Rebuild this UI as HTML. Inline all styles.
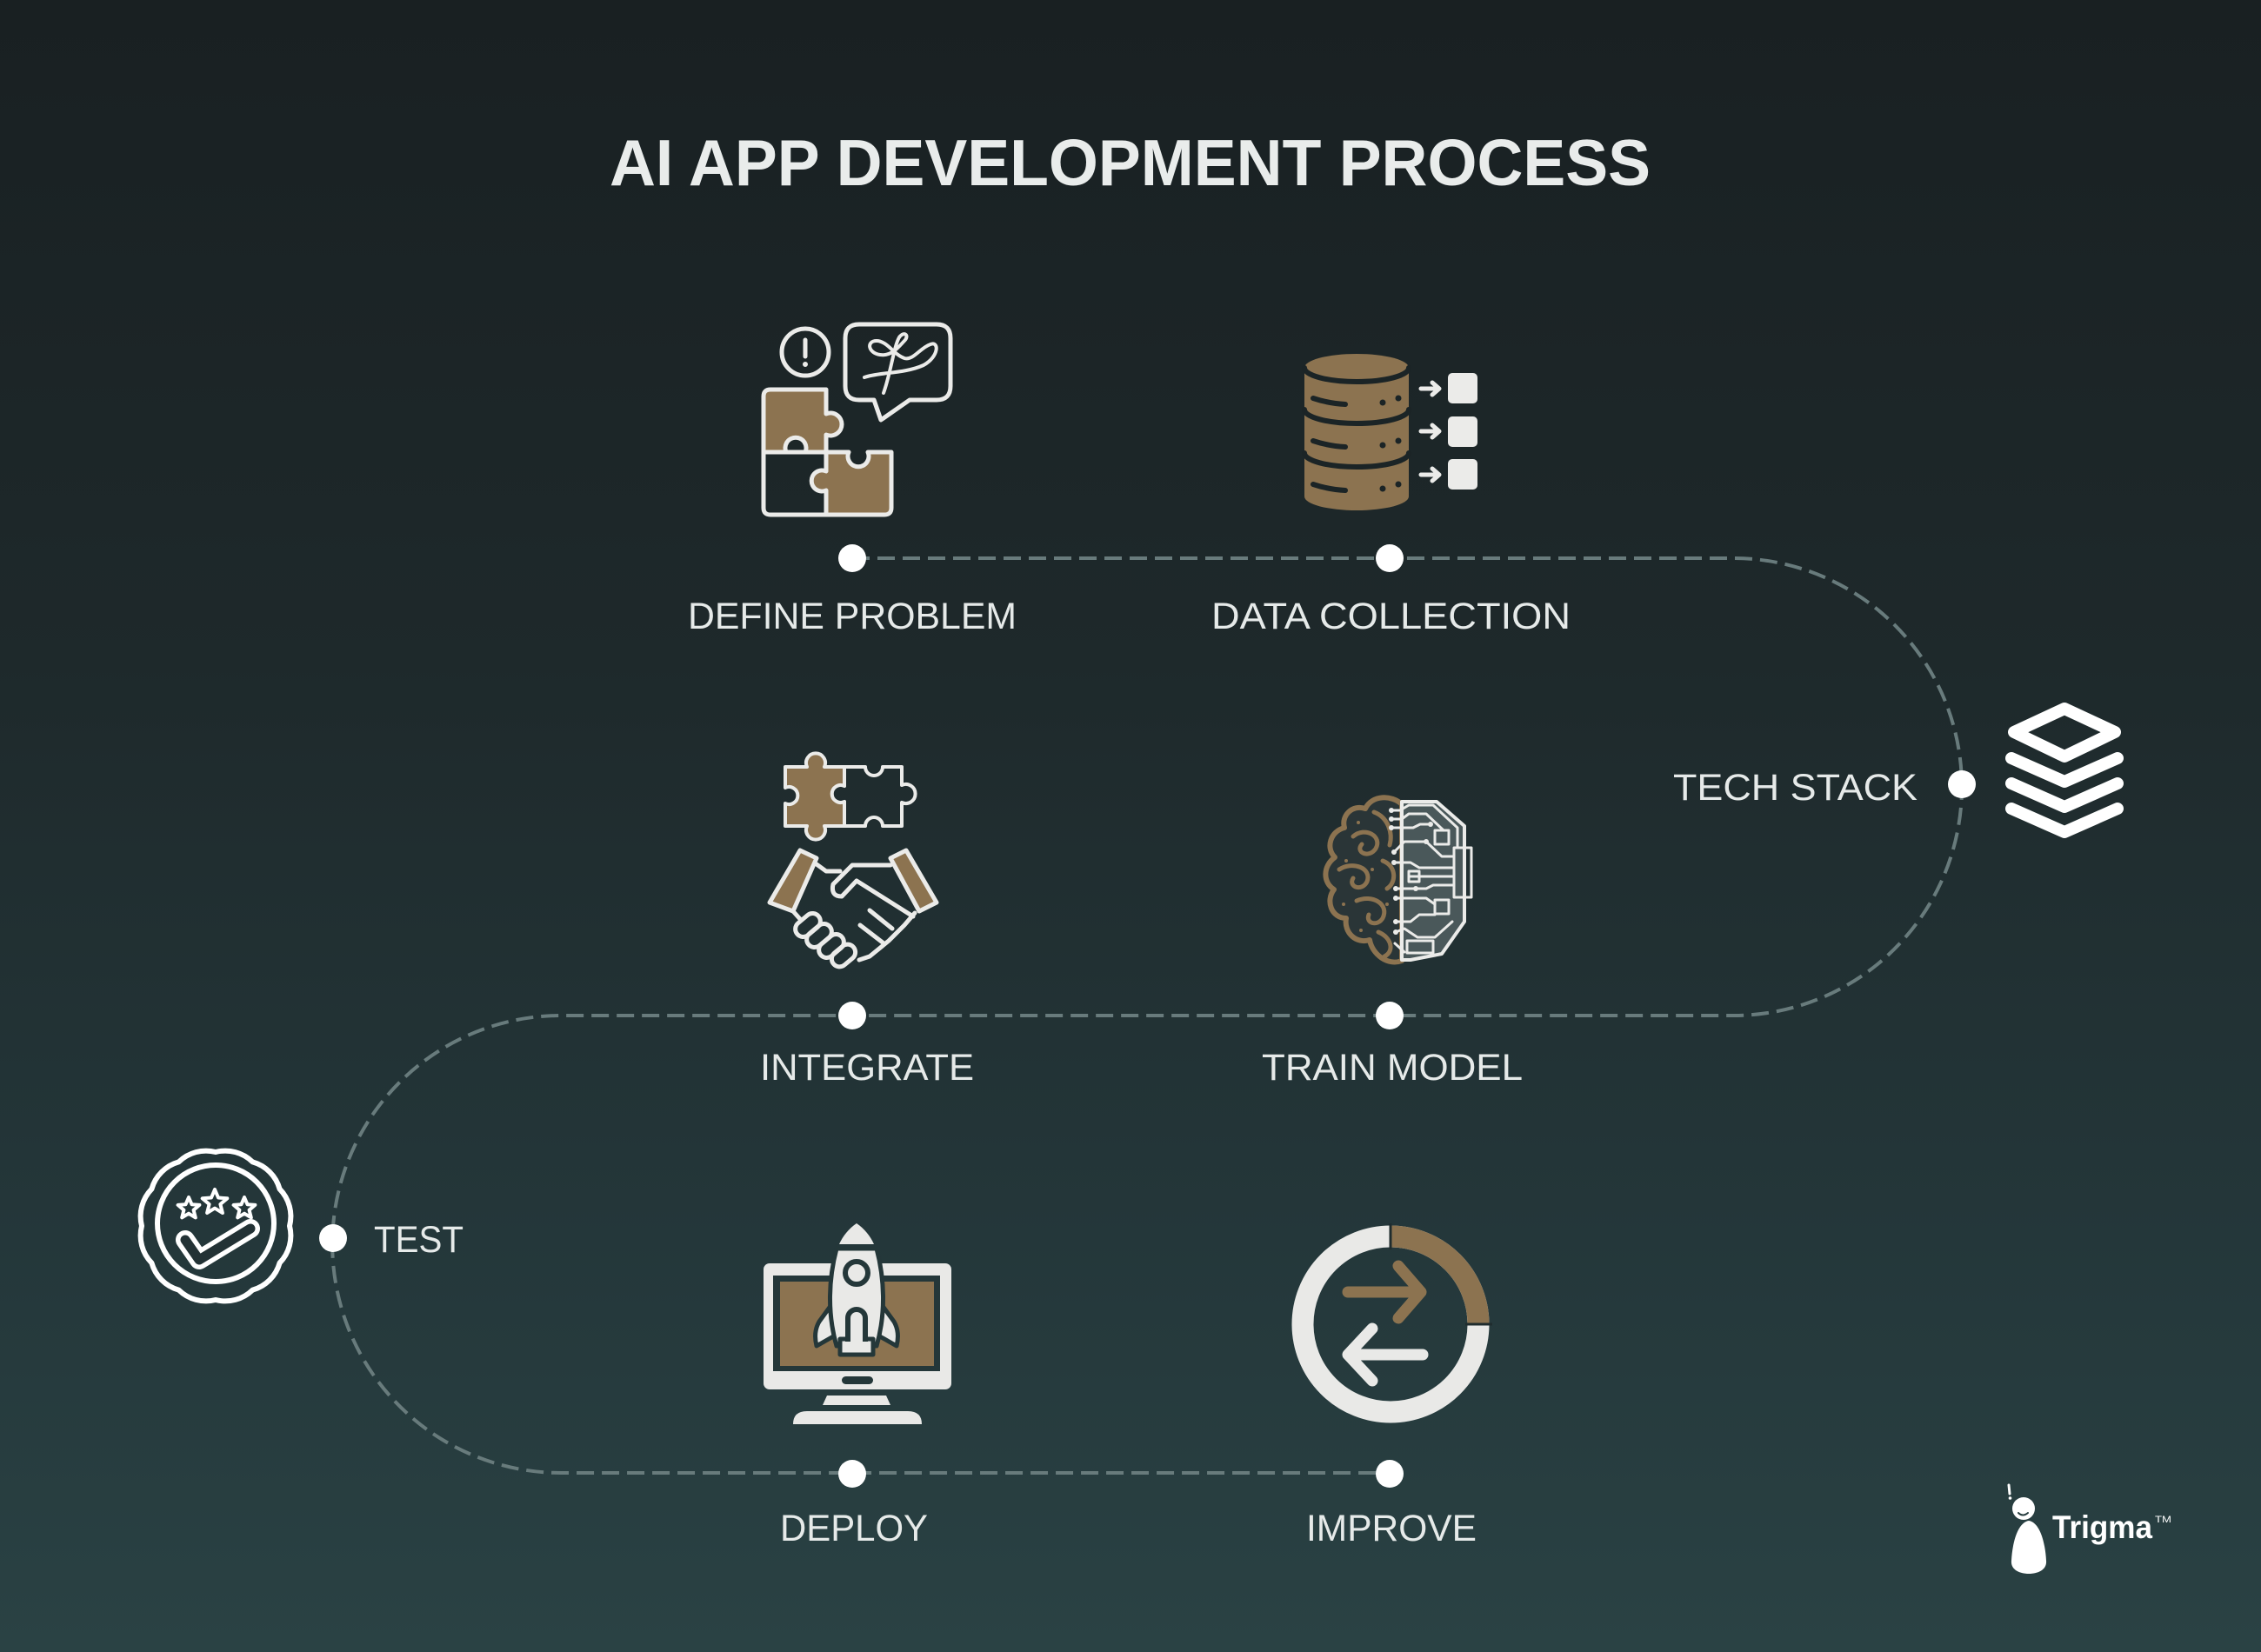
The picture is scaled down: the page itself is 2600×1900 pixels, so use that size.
<!DOCTYPE html>
<html>
<head>
<meta charset="utf-8">
<style>
  html,body{margin:0;padding:0;background:#1f2c2e;}
  svg{display:block;}
</style>
</head>
<body>
<svg width="2600" height="1900" viewBox="0 0 2600 1900" xmlns="http://www.w3.org/2000/svg">
  <defs>
    <linearGradient id="bg" x1="0" y1="0" x2="0" y2="1">
      <stop offset="0" stop-color="#192022"/>
      <stop offset="0.4" stop-color="#1e292b"/>
      <stop offset="0.75" stop-color="#24373a"/>
      <stop offset="1" stop-color="#2a4244"/>
    </linearGradient>
  </defs>
  <rect x="0" y="0" width="2600" height="1900" fill="url(#bg)"/>

  <!-- Title -->
  <text x="701" y="213" font-family="'Liberation Sans', sans-serif" font-weight="bold" font-size="75" fill="#e9eceb" textLength="1197" lengthAdjust="spacingAndGlyphs">AI APP DEVELOPMENT PROCESS</text>

  <!-- Dashed path -->
  <path d="M 980 642 H 1993 A 263 263 0 0 1 1993 1168 H 645 A 263 263 0 0 0 645 1694 H 1598" fill="none" stroke="#687b7c" stroke-width="4" stroke-dasharray="20 9"/>

  <!-- Dots -->
  <g fill="#ffffff">
    <circle cx="980" cy="642" r="16"/>
    <circle cx="1598" cy="642" r="16"/>
    <circle cx="2256" cy="902" r="16"/>
    <circle cx="980" cy="1168" r="16"/>
    <circle cx="1598" cy="1168" r="16"/>
    <circle cx="383" cy="1424" r="16"/>
    <circle cx="980" cy="1695" r="16"/>
    <circle cx="1598" cy="1695" r="16"/>
  </g>

  <!-- Labels -->
  <g font-family="'Liberation Sans', sans-serif" font-size="43" fill="#e6eae9">
    <text x="791" y="723" textLength="378" lengthAdjust="spacingAndGlyphs">DEFINE PROBLEM</text>
    <text x="1393" y="723" textLength="413" lengthAdjust="spacingAndGlyphs">DATA COLLECTION</text>
    <text x="1924" y="920" textLength="281" lengthAdjust="spacingAndGlyphs">TECH STACK</text>
    <text x="874" y="1242" textLength="246" lengthAdjust="spacingAndGlyphs">INTEGRATE</text>
    <text x="1451" y="1242" textLength="300" lengthAdjust="spacingAndGlyphs">TRAIN MODEL</text>
    <text x="430" y="1440" textLength="103" lengthAdjust="spacingAndGlyphs">TEST</text>
    <text x="897" y="1772" textLength="170" lengthAdjust="spacingAndGlyphs">DEPLOY</text>
    <text x="1502" y="1772" textLength="196" lengthAdjust="spacingAndGlyphs">IMPROVE</text>
  </g>

  <!-- ICON 1: Define problem -->
  <g stroke="#ebebe9" stroke-width="5" stroke-linejoin="round" stroke-linecap="round">
    <circle cx="926" cy="405" r="27" fill="none"/>
    <line x1="926" y1="391" x2="926" y2="410"/>
    <circle cx="926" cy="419" r="2" fill="#ebebe9" stroke-width="2"/>
    <path d="M 988 373 H 1077 Q 1093 373 1093 389 V 444 Q 1093 460 1077 460 H 1046 L 1013 483 L 1005 460 H 988 Q 972 460 972 444 V 389 Q 972 373 988 373 Z" fill="none"/>
    <path d="M 994 434 C 1010 428, 1040 430, 1062 420 C 1080 410, 1080 392, 1070 396 C 1058 400, 1050 415, 1040 412 C 1028 408, 1020 392, 1008 392 C 996 392, 998 406, 1012 408 C 1026 410, 1034 398, 1040 392 C 1046 386, 1040 380, 1034 388 C 1028 398, 1024 430, 1016 452" fill="none" stroke-width="4"/>
    <!-- puzzle -->
    <path d="M 878 520 H 950 V 592 H 886 Q 878 592 878 584 Z" fill="none"/>
    <path d="M 886 448 H 950 V 476 A 13 13 0 1 1 950 500 V 520 H 926 A 12 12 0 1 0 904 520 H 878 V 456 Q 878 448 886 448 Z" fill="#8c7350"/>
    <path d="M 950 520 H 976 A 12 12 0 1 0 998 520 H 1025 V 584 Q 1025 592 1017 592 H 950 V 564 A 12 12 0 1 1 950 542 Z" fill="#8c7350"/>
  </g>

  <!-- ICON 2: Data collection -->
  <g>
    <rect x="1500" y="423" width="120" height="148" fill="#8c7350"/>
    <ellipse cx="1560" cy="423" rx="60" ry="16" fill="#8c7350"/>
    <ellipse cx="1560" cy="571" rx="60" ry="16" fill="#8c7350"/>
    <g fill="none" stroke="#1b2426" stroke-width="6" stroke-linecap="round">
      <path d="M 1500 423 A 60 16 0 0 0 1620 423"/>
      <path d="M 1500 471 A 60 16 0 0 0 1620 471"/>
      <path d="M 1500 521 A 60 16 0 0 0 1620 521"/>
      <path d="M 1510 458 Q 1528 464 1547 465"/>
      <path d="M 1510 507 Q 1528 513 1547 514"/>
      <path d="M 1510 557 Q 1528 563 1547 564"/>
    </g>
    <g fill="#1b2426">
      <circle cx="1590" cy="463" r="3.5"/><circle cx="1608" cy="458" r="3.5"/>
      <circle cx="1590" cy="512" r="3.5"/><circle cx="1608" cy="507" r="3.5"/>
      <circle cx="1590" cy="562" r="3.5"/><circle cx="1608" cy="557" r="3.5"/>
    </g>
    <g stroke="#ebebe9" stroke-width="5" stroke-linecap="round" stroke-linejoin="round" fill="none">
      <path d="M 1634 447 H 1654 M 1647 440 L 1655 447 L 1647 454"/>
      <path d="M 1634 496 H 1654 M 1647 489 L 1655 496 L 1647 503"/>
      <path d="M 1634 546 H 1654 M 1647 539 L 1655 546 L 1647 553"/>
    </g>
    <g fill="#ebebe9">
      <rect x="1665" y="429" width="34" height="35" rx="5"/>
      <rect x="1665" y="479" width="34" height="35" rx="5"/>
      <rect x="1665" y="528" width="34" height="35" rx="5"/>
    </g>
  </g>

  <!-- ICON 3: Tech stack -->
  <g fill="none" stroke="#ffffff" stroke-width="14" stroke-linejoin="round" stroke-linecap="round">
    <polygon points="2374,815 2432,842 2374,870 2316,842"/>
    <polyline points="2313,872 2374,899 2435,872"/>
    <polyline points="2313,901 2374,928 2435,901"/>
    <polyline points="2313,930 2374,957 2435,930"/>
  </g>

  <!-- ICON 4: Integrate -->
  <g stroke="#ebebe9" stroke-width="4" stroke-linejoin="round" stroke-linecap="round">
    <path d="M 971 882 H 995 A 10 10 0 1 0 1015 882 H 1037 V 903 A 11 11 0 1 1 1037 923 V 950 H 1015 A 10 10 0 1 0 995 950 H 971 V 922 A 10 10 0 1 1 971 904 Z" fill="none"/>
    <path d="M 903 882 H 928 A 11 11 0 1 1 948 882 H 971 V 904 A 10 10 0 1 0 971 922 V 950 H 948 A 11 11 0 1 1 928 950 H 903 V 924 A 10 10 0 1 0 903 906 Z" fill="#8c7350"/>
    <!-- cuffs -->
    <polygon points="920,978 939,987 912,1048 885,1038" fill="#8c7350" stroke-width="5"/>
    <polygon points="1024,987 1042,978 1077,1038 1057,1048" fill="#8c7350" stroke-width="5"/>
    <!-- hands -->
    <g fill="none" stroke-width="5">
      <path d="M 939 994 L 950 1002 H 966"/>
      <path d="M 1024 995 H 980 L 958 1017 Q 955 1031 968 1031 L 985 1013 L 1050 1054"/>
      <path d="M 1052 1050 L 1040 1064 L 1022 1082 L 1000 1100 L 988 1104"/>
      <path d="M 1000 1047 L 1026 1068 M 989 1064 L 1015 1084"/>
      <path d="M 912 1048 L 920 1057"/>
      <rect x="913" y="1055" width="32" height="18" rx="9" transform="rotate(-40 929 1064)"/>
      <rect x="926" y="1067" width="32" height="18" rx="9" transform="rotate(-40 942 1076)"/>
      <rect x="940" y="1079" width="32" height="18" rx="9" transform="rotate(-40 956 1088)"/>
      <rect x="955" y="1090" width="30" height="18" rx="9" transform="rotate(-40 970 1099)"/>
    </g>
  </g>

  <!-- ICON 5: Train model (brain) -->
  <g>
    <path d="M 1612 925 C 1600 914, 1578 914, 1570 930 C 1555 925, 1542 938, 1546 952 C 1530 956, 1524 975, 1535 986 C 1521 996, 1521 1015, 1534 1023 C 1524 1036, 1531 1056, 1548 1056 C 1545 1073, 1560 1086, 1575 1081 C 1578 1098, 1596 1111, 1612 1105 Z" fill="#2a3537" stroke="#8c7350" stroke-width="6" stroke-linejoin="round"/>
    <g fill="none" stroke="#8c7350" stroke-width="5" stroke-linecap="round">
      <path d="M 1556 962 C 1570 950, 1590 962, 1582 976 C 1574 988, 1558 980, 1566 971"/>
      <path d="M 1580 934 C 1596 940, 1602 958, 1598 972"/>
      <path d="M 1540 1000 C 1555 990, 1578 998, 1572 1014 C 1566 1026, 1550 1020, 1556 1010"/>
      <path d="M 1590 990 C 1606 996, 1606 1015, 1595 1022"/>
      <path d="M 1560 1036 C 1578 1028, 1598 1040, 1590 1056 C 1584 1066, 1570 1062, 1574 1052"/>
      <path d="M 1585 1072 C 1600 1078, 1604 1094, 1592 1100"/>
    </g>
    <g fill="#8c7350">
      <circle cx="1562" cy="946" r="2"/><circle cx="1548" cy="990" r="2"/><circle cx="1578" cy="1000" r="2"/>
      <circle cx="1545" cy="1040" r="2"/><circle cx="1565" cy="1070" r="2"/><circle cx="1595" cy="1040" r="2"/>
    </g>
    <path d="M 1612 922 H 1652 L 1684 950 V 1060 L 1658 1097 L 1622 1104 H 1612 Z" fill="#4a585a" stroke="#ebebe9" stroke-width="4" stroke-linejoin="round"/>
    <g fill="none" stroke="#ebebe9" stroke-width="3" stroke-linecap="round" stroke-linejoin="round">
      <path d="M 1600 932 H 1610 L 1620 926 H 1648 L 1676 952 V 975"/>
      <path d="M 1600 942 H 1612 L 1620 936 H 1640 L 1660 955"/>
      <path d="M 1600 952 H 1625 L 1633 948 H 1645"/>
      <path d="M 1603 980 L 1615 968 H 1640 L 1658 985 H 1672"/>
      <path d="M 1603 992 H 1622 L 1632 998 H 1672"/>
      <path d="M 1620 1008 H 1672"/>
      <path d="M 1605 1022 H 1640 L 1648 1018 H 1672"/>
      <path d="M 1605 1033 H 1640 L 1650 1040"/>
      <path d="M 1605 1060 L 1622 1060 L 1632 1052 H 1650"/>
      <path d="M 1605 1072 L 1615 1068 L 1630 1078 H 1650 L 1670 1060"/>
      <path d="M 1604 1085 L 1615 1095"/>
      <rect x="1672" y="975" width="20" height="57"/>
      <rect x="1650" y="955" width="16" height="16"/>
      <rect x="1650" y="1035" width="16" height="16"/>
      <rect x="1620" y="1002" width="12" height="12"/>
      <rect x="1618" y="1082" width="30" height="14"/>
    </g>
    <g fill="#ebebe9">
      <circle cx="1600" cy="932" r="3"/><circle cx="1600" cy="942" r="3"/><circle cx="1600" cy="952" r="3"/>
      <circle cx="1603" cy="980" r="3"/><circle cx="1603" cy="992" r="3"/><circle cx="1605" cy="1022" r="3"/>
      <circle cx="1605" cy="1033" r="3"/><circle cx="1605" cy="1060" r="3"/><circle cx="1605" cy="1072" r="3"/>
      <circle cx="1645" cy="948" r="3"/><circle cx="1640" cy="968" r="3"/><circle cx="1628" cy="1022" r="3"/>
    </g>
  </g>

  <!-- ICON 6: Test badge -->
  <g fill="none" stroke="#ffffff" stroke-width="6" stroke-linejoin="round" stroke-linecap="round">
    <path d="M 333 1410 A 45 45 0 0 1 321.6 1452.5 A 45 45 0 0 1 290.5 1483.6 A 45 45 0 0 1 248 1495 A 45 45 0 0 1 205.5 1483.6 A 45 45 0 0 1 174.4 1452.5 A 45 45 0 0 1 163 1410 A 45 45 0 0 1 174.4 1367.5 A 45 45 0 0 1 205.5 1336.4 A 45 45 0 0 1 248 1325 A 45 45 0 0 1 290.5 1336.4 A 45 45 0 0 1 321.6 1367.5 A 45 45 0 0 1 333 1410 Z"/>
    <circle cx="248" cy="1407" r="67"/>
    <g stroke-width="4">
      <polygon points="217,1377 220.5,1385.2 229.4,1385.9 222.6,1391.7 224.8,1400.4 217,1395.7 209.2,1400.4 211.4,1391.7 204.6,1385.9 213.5,1385.2"/>
      <polygon points="247,1368 251,1377.5 261.3,1378.3 253.4,1385 255.9,1395 247,1389.6 238.1,1395 240.6,1385 232.7,1378.3 243,1377.5"/>
      <polygon points="281,1377 284.5,1385.2 293.4,1385.9 286.6,1391.7 288.8,1400.4 281,1395.7 273.2,1400.4 275.4,1391.7 268.6,1385.9 277.5,1385.2"/>
    </g>
  </g>
  <polyline points="213,1426 229,1449 288,1413" fill="none" stroke="#ffffff" stroke-width="22" stroke-linecap="round" stroke-linejoin="round"/>
  <polyline points="213,1426 229,1449 288,1413" fill="none" stroke="#233235" stroke-width="11" stroke-linecap="round" stroke-linejoin="round"/>

  <!-- ICON 7: Deploy -->
  <g>
    <rect x="878" y="1453" width="216" height="145" rx="7" fill="#e9e9e7"/>
    <rect x="889" y="1467" width="192" height="110" fill="#243739"/>
    <rect x="897" y="1474" width="177" height="97" fill="#8c7350"/>
    <rect x="968" y="1583" width="36" height="9" rx="4.5" fill="#243739"/>
    <polygon points="951,1605 1019,1605 1024,1616 946,1616" fill="#e9e9e7"/>
    <path d="M 912 1638 Q 912 1623 928 1623 H 1044 Q 1060 1623 1060 1638 Z" fill="#e9e9e7"/>
    <!-- rocket -->
    <g stroke="#243739" stroke-width="5" stroke-linejoin="round">
      <path d="M 958 1498 L 942 1520 Q 935 1532 939 1548 L 960 1536 Z" fill="#e9e9e7"/>
      <path d="M 1012 1498 L 1028 1520 Q 1035 1532 1031 1548 L 1010 1536 Z" fill="#e9e9e7"/>
      <path d="M 962 1436 H 1008 C 1017 1470, 1019 1510, 1008 1548 H 962 C 951 1510, 953 1470, 962 1436 Z" fill="#e9e9e7"/>
      <rect x="966" y="1540" width="38" height="18" fill="#e9e9e7"/>
      <circle cx="985" cy="1464" r="13" fill="#e9e9e7" stroke-width="6"/>
      <path d="M 975 1543 V 1516 A 10 10 0 0 1 995 1516 V 1543" fill="#e9e9e7" stroke-width="6"/>
    </g>
    <path d="M 985 1407 C 976 1413, 969 1422, 965 1431 H 1005 C 1001 1422, 994 1413, 985 1407 Z" fill="#e9e9e7"/>
  </g>

  <!-- ICON 8: Improve -->
  <g>
    <circle cx="1599" cy="1523" r="101" fill="none" stroke="#e9e9e7" stroke-width="25"/>
    <path d="M 1599 1422 A 101 101 0 0 1 1700 1523" fill="none" stroke="#8c7350" stroke-width="25"/>
    <line x1="1599" y1="1407" x2="1599" y2="1437" stroke="#1f2c2e" stroke-width="3"/>
    <line x1="1685" y1="1523" x2="1716" y2="1523" stroke="#1f2c2e" stroke-width="3"/>
    <g fill="none" stroke-width="13" stroke-linecap="round" stroke-linejoin="round">
      <path d="M 1550 1486 H 1633 M 1608 1456 L 1634 1486 L 1608 1516" stroke="#8c7350"/>
      <path d="M 1636 1558 H 1551 M 1578 1528 L 1550 1558 L 1578 1588" stroke="#e9e9e7"/>
    </g>
  </g>

  <!-- Trigma logo -->
  <g fill="#ffffff">
    <path d="M 2333 1749 C 2320 1751, 2314 1775, 2313 1795 C 2312 1805, 2322 1810, 2333 1810 C 2344 1810, 2354 1805, 2353 1795 C 2352 1775, 2346 1751, 2333 1749 Z"/>
    <circle cx="2327" cy="1735" r="13"/>
    <path d="M 2321 1740 Q 2326 1745 2332 1740" fill="none" stroke="#243a3c" stroke-width="2" stroke-linecap="round"/>
    <line x1="2310" y1="1708" x2="2311" y2="1718" stroke="#ffffff" stroke-width="3" stroke-linecap="round"/>
    <circle cx="2311.5" cy="1723" r="1.8"/>
    <text x="2360" y="1769" font-family="'Liberation Sans', sans-serif" font-weight="bold" font-size="37" textLength="115" lengthAdjust="spacingAndGlyphs">Trigma</text>
    <text x="2478" y="1751" font-family="'Liberation Sans', sans-serif" font-size="11" textLength="19" lengthAdjust="spacingAndGlyphs">TM</text>
  </g>
</svg>
</body>
</html>
